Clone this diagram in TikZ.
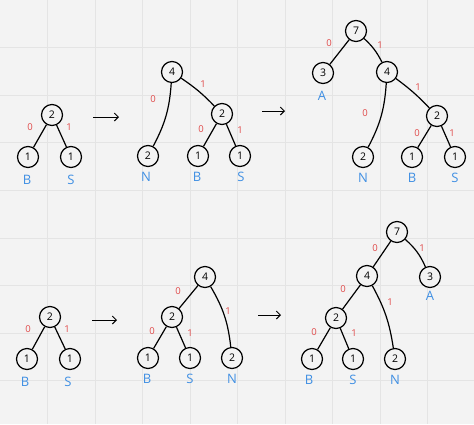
\documentclass[tikz,border=0pt]{standalone}
\usepackage{fontspec}
\setmainfont{Open Sans}
\usetikzlibrary{arrows.meta}
\definecolor{bg}{HTML}{F3F3F3}
\definecolor{gridc}{HTML}{E4E4E4}
\definecolor{lblue}{HTML}{3F8FE3}
\definecolor{lred}{HTML}{E04848}
\begin{document}
\begin{tikzpicture}[x=1pt,y=-1pt,
  nd/.style={circle,draw=black,line width=1.2pt,minimum size=21pt,inner sep=0pt,fill=bg,font=\fontsize{10.5}{10.5}\selectfont},
  sym/.style={text=lblue,inner sep=0pt,font=\fontsize{13}{13}\selectfont},
  bit/.style={text=lred,inner sep=0pt,font=\fontsize{9.5}{9.5}\selectfont},
  edge/.style={line width=1.2pt},
  arr/.style={line width=1pt,-{Straight Barb[length=4pt,width=8pt]}}]
\fill[bg] (0,0) rectangle (474,424);
\useasboundingbox (0,0) rectangle (474,424);
\foreach \i in {1,...,9} \draw[gridc,line width=0.8pt] (47.5*\i,0) -- (47.5*\i,424);
\foreach \i in {1,...,8} \draw[gridc,line width=0.8pt] (0,47.6*\i) -- (474,47.6*\i);

% ---------- tree 1 (top left)
\node[nd] (t1r) at (52,115) {2};
\node[nd] (t1b) at (28,157) {1};
\node[nd] (t1s) at (71,157) {1};
\node[sym] (t1B) at (27,180) {B};
\node[sym] (t1S) at (71,180) {S};
\node[bit] (t1e0) at (30,127) {0};
\node[bit] (t1e1) at (69,127) {1};
\draw[edge] (t1r) -- (t1b);
\draw[edge] (t1r) -- (t1s);
\coordinate (a1s) at (93,117);
\coordinate (a1e) at (119,117);
\draw[arr] (a1s) -- (a1e);

% ---------- tree 2 (top middle)
\node[nd] (t2r) at (172,72) {4};
\node[nd] (t2m) at (222,114) {2};
\node[nd] (t2n) at (148,156) {2};
\node[nd] (t2b) at (198,156) {1};
\node[nd] (t2s) at (240,156) {1};
\node[sym] (t2N) at (146,177) {N};
\node[sym] (t2B) at (197,177) {B};
\node[sym] (t2S) at (241,177) {S};
\node[bit] (t2e0) at (153,99) {0};
\node[bit] (t2e1) at (203,84) {1};
\node[bit] (t2e2) at (201,129) {0};
\node[bit] (t2e3) at (240,130) {1};
\draw[edge] (t2r) to[bend left=12] (t2n);
\draw[edge] (t2r) to[bend left=6] (t2m);
\draw[edge] (t2m) -- (t2b);
\draw[edge] (t2m) -- (t2s);
\coordinate (a2s) at (262,111);
\coordinate (a2e) at (285,111);
\draw[arr] (a2s) -- (a2e);

% ---------- tree 3 (top right)
\node[nd] (t3r) at (356,31) {7};
\node[nd] (t3a) at (323,73) {3};
\node[nd] (t3f) at (387,72) {4};
\node[nd] (t3m) at (437,116) {2};
\node[nd] (t3n) at (363,157) {2};
\node[nd] (t3b) at (412,157) {1};
\node[nd] (t3s) at (455,157) {1};
\node[sym] (t3A) at (322,96) {A};
\node[sym] (t3N) at (363,178) {N};
\node[sym] (t3B) at (412,178) {B};
\node[sym] (t3S) at (455,178) {S};
\node[bit] (t3e0) at (329,43) {0};
\node[bit] (t3e1) at (380,45) {1};
\node[bit] (t3e2) at (418,87) {1};
\node[bit] (t3e3) at (365,113) {0};
\node[bit] (t3e4) at (417,133) {0};
\node[bit] (t3e5) at (452,133) {1};
\draw[edge] (t3r) -- (t3a);
\draw[edge] (t3r) to[bend left=10] (t3f);
\draw[edge] (t3f) to[bend left=5] (t3m);
\draw[edge] (t3f) to[bend left=12] (t3n);
\draw[edge] (t3m) -- (t3b);
\draw[edge] (t3m) -- (t3s);

% ---------- tree 4 (bottom left)
\node[nd] (t4r) at (50,317) {2};
\node[nd] (t4b) at (27,359) {1};
\node[nd] (t4s) at (70,359) {1};
\node[sym] (t4B) at (25,382) {B};
\node[sym] (t4S) at (68,382) {S};
\node[bit] (t4e0) at (28,329) {0};
\node[bit] (t4e1) at (67,329) {1};
\draw[edge] (t4r) -- (t4b);
\draw[edge] (t4r) -- (t4s);
\coordinate (a3s) at (92,320);
\coordinate (a3e) at (117,320);
\draw[arr] (a3s) -- (a3e);

% ---------- tree 5 (bottom middle)
\node[nd] (t5r) at (205,277) {4};
\node[nd] (t5m) at (172,317) {2};
\node[nd] (t5b) at (148,358) {1};
\node[nd] (t5s) at (190,358) {1};
\node[nd] (t5n) at (232,358) {2};
\node[sym] (t5B) at (147,379) {B};
\node[sym] (t5S) at (190,379) {S};
\node[sym] (t5N) at (232,379) {N};
\node[bit] (t5e0) at (178,291) {0};
\node[bit] (t5e1) at (228,311) {1};
\node[bit] (t5e2) at (152,331) {0};
\node[bit] (t5e3) at (190,333) {1};
\draw[edge] (t5r) -- (t5m);
\draw[edge] (t5r) to[bend left=12] (t5n);
\draw[edge] (t5m) -- (t5b);
\draw[edge] (t5m) -- (t5s);
\coordinate (a4s) at (258,315);
\coordinate (a4e) at (281,315);
\draw[arr] (a4s) -- (a4e);

% ---------- tree 6 (bottom right)
\node[nd] (t6r) at (397,232) {7};
\node[nd] (t6f) at (367,276) {4};
\node[nd] (t6a) at (430,277) {3};
\node[nd] (t6m) at (336,318) {2};
\node[nd] (t6b) at (312,359) {1};
\node[nd] (t6s) at (353,359) {1};
\node[nd] (t6n) at (395,359) {2};
\node[sym] (t6A) at (430,296) {A};
\node[sym] (t6B) at (309,380) {B};
\node[sym] (t6S) at (353,380) {S};
\node[sym] (t6N) at (395,380) {N};
\node[bit] (t6e0) at (375,248) {0};
\node[bit] (t6e1) at (422,248) {1};
\node[bit] (t6e2) at (343,289) {0};
\node[bit] (t6e3) at (390,302) {1};
\node[bit] (t6e4) at (314,332) {0};
\node[bit] (t6e5) at (354,333) {1};
\draw[edge] (t6r) -- (t6f);
\draw[edge] (t6r) to[bend left=12] (t6a);
\draw[edge] (t6f) -- (t6m);
\draw[edge] (t6f) to[bend left=10] (t6n);
\draw[edge] (t6m) -- (t6b);
\draw[edge] (t6m) -- (t6s);
\end{tikzpicture}
\end{document}
